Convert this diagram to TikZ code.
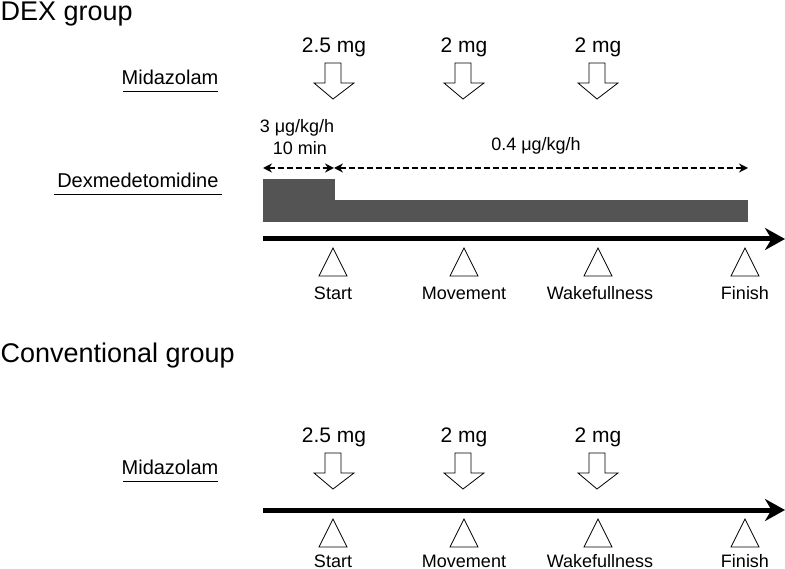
\documentclass[tikz,border=0pt]{standalone}
\usepackage{fontspec}
\setmainfont{Liberation Sans}
\usetikzlibrary{arrows.meta}
\begin{document}
\begin{tikzpicture}[x=1pt,y=-1pt,
  title/.style={anchor=west,font=\fontsize{27}{30}\selectfont},
  dose/.style={font=\fontsize{21}{24}\selectfont},
  drug/.style={font=\fontsize{20}{23}\selectfont},
  lbl/.style={font=\fontsize{18}{20}\selectfont},
  rate/.style={font=\fontsize{18}{21}\selectfont},
  timeline/.style={line width=5pt,-{Stealth[length=20pt,width=22pt]}},
  tri/.style={draw,line width=0.8pt,fill=white},
  darr/.style={draw,line width=0.8pt,fill=white},
  dashline/.style={dash pattern=on 6pt off 3pt,line width=1.8pt,{Stealth[length=9pt,width=9pt]}-{Stealth[length=9pt,width=9pt]}}]
\useasboundingbox (0,0) rectangle (785,569);
\def\mydownarrow#1#2{\draw[darr] (#1-10,#2) -- (#1+6,#2) -- (#1+6,#2+20) -- (#1+19,#2+20) -- (#1-2,#2+36) -- (#1-21,#2+20) -- (#1-10,#2+20) -- cycle;}
\def\mytriangle#1#2{\draw[tri] (#1,#2) -- (#1+14,#2+28) -- (#1-14,#2+28) -- cycle;}
% DEX group
\node[title] (t1) at (-3,14) {DEX group};
\node[dose] (d1) at (334,47) {2.5 mg};
\node[dose] (d2) at (464,47) {2 mg};
\node[dose] (d3) at (598,47) {2 mg};
\foreach \x in {335,465,599} {\mydownarrow{\x}{63}}
\node[drug] (m1) at (170,77) {Midazolam};
\draw[line width=0.8pt] (123,91) -- (218,91);
\node[drug,anchor=east] (dex) at (222,180) {Dexmedetomidine};
\draw[line width=0.8pt] (dex.west |- 0,194) -- (dex.east |- 0,194);
\node[rate] (r1) at (297,128) {3 μg/kg/h};
\node[rate] (r2) at (300,148) {10 min};
\node[rate] (r3) at (536,146) {0.4 μg/kg/h};
\coordinate (a0) at (263,168);
\coordinate (a1) at (334,168);
\coordinate (a2) at (748,168);
\draw[dashline] (a0) -- (a1);
\draw[dashline] (a1) -- (a2);
\fill[black!67] (263,179) rectangle (335,222);
\fill[black!67] (335,200) rectangle (748,222);
\coordinate (tl0) at (263,239);
\coordinate (tl1) at (785,239);
\draw[timeline] (tl0) -- (tl1);
\foreach \x in {333,464,598,745} {\mytriangle{\x}{248}}
\node[lbl] (s1) at (333,293) {Start};
\node[lbl] (s2) at (464,293) {Movement};
\node[lbl] (s3) at (600,293) {Wakefullness};
\node[lbl] (s4) at (745,293) {Finish};
% Conventional group
\node[title] (t2) at (-3,356) {Conventional group};
\node[dose] (e1) at (334,437) {2.5 mg};
\node[dose] (e2) at (464,437) {2 mg};
\node[dose] (e3) at (598,437) {2 mg};
\foreach \x in {335,465,599} {\mydownarrow{\x}{453}}
\node[drug] (m2) at (170,467) {Midazolam};
\draw[line width=0.8pt] (123,481) -- (218,481);
\coordinate (tm0) at (263,510);
\coordinate (tm1) at (785,510);
\draw[timeline] (tm0) -- (tm1);
\foreach \x in {333,464,598,745} {\mytriangle{\x}{519}}
\node[lbl] (u1) at (333,561) {Start};
\node[lbl] (u2) at (464,561) {Movement};
\node[lbl] (u3) at (600,561) {Wakefullness};
\node[lbl] (u4) at (745,561) {Finish};
\end{tikzpicture}
\end{document}
